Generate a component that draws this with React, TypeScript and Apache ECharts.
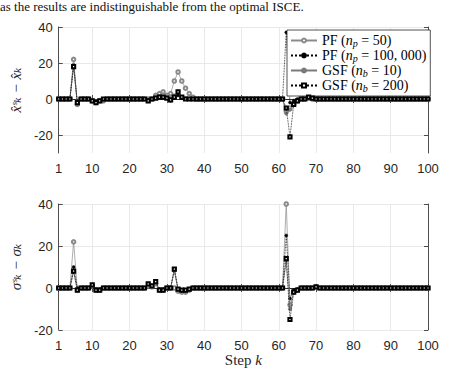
import React, { useEffect, useRef } from "react";
import * as echarts from "echarts";

const steps: number[] = Array.from({ length: 100 }, (_, i) => i + 1);

const xTicks = [1, 10, 20, 30, 40, 50, 60, 70, 80, 90, 100];
const yTicksTop = [-20, 0, 20, 40];
const yTicksBottom = [-20, 0, 20, 40];

const seriesNames = ["PF (n_p = 50)", "PF (n_p = 100,000)", "GSF (n_b = 10)", "GSF (n_b = 200)"];

// top: state estimate error
const xPF50 = [
  0, 0, 0, 0, 22, -3, 0, 0, 0, -1,
  -2, -1, -1, 0, 0, 0, 0, 0, 0, 0,
  0, 0, 0, 0, 0, 0, 2, 3, 4, 2,
  3, 10, 15, 10, 6, 3, 1, 0, 0, 0,
  0, 0, 0, 0, 0, 0, 0, 0, 0, 0,
  0, 0, 0, 0, 0, 0, 0, 0, 0, 0,
  0, -7, -5, -3, -1, 0, 0, 0.5, 0, 0,
  0, 0, 0, 0, 0, 0, 0, 0, 0, 0,
  0, 0, 0, 0, 0, 0, 0, 0, 0, 0,
  0, 0, 0, 0, 0, 0, 0, 0, 0, 0,
];
const xPF100k = [
  0, 0, 0, 0, 19, -2, 0, 0, 0, -1,
  -2, -1, 0, 0, 0, 0, 0, 0, 0, 0,
  0, 0, 0, 0, -0.5, 0, 0.5, 1, 1, 0.5,
  -1, 1, 2, 0.5, 0, 0, 0, 0, 0, 0,
  0, 0, 0, 0, 0, 0, 0, 0, 0, 0,
  0, 0, 0, 0, 0, 0, 0, 0, 0, 0,
  0, 37, -2, -1, 0, 0, 0, 0.5, 0, 0,
  0, 0, 0, 0, 0, 0, 0, 0, 0, 0,
  0, 0, 0, 0, 0, 0, 0, 0, 0, 0,
  0, 0, 0, 0, 0, 0, 0, 0, 0, 0,
];
const xGSF10 = [
  0, 0, 0, 0, 19, -3, 0, 0, 0, -1,
  -2, -1, -1, 0, 0, 0, 0, 0, 0, 0,
  0, 0, 0, 0, -1, 0, 1, 1.5, 1, 1,
  0.5, 2, 4, 1, 0.5, 0, 0, 0, 0, 0,
  0, 0, 0, 0, 0, 0, 0, 0, 0, 0,
  0, 0, 0, 0, 0, 0, 0, 0, 0, 0,
  0, -8, -6, -3, -1, 0, 0, 0.5, 0, 0,
  0, 0, 0, 0, 0, 0, 0, 0, 0, 0,
  0, 0, 0, 0, 0, 0, 0, 0, 0, 0,
  0, 0, 0, 0, 0, 0, 0, 0, 0, 0,
];
const xGSF200 = [
  0, 0, 0, 0, 18, -2, 0, 0, 0, -1,
  -2, -1, 0, 0, 0, 0, 0, 0, 0, 0,
  0, 0, 0, 0, -1, 0, 0.5, 1, 1, 0.5,
  -0.5, 1, 4, 1, 0, 0, 0, 0, 0, 0,
  0, 0, 0, 0, 0, 0, 0, 0, 0, 0,
  0, 0, 0, 0, 0, 0, 0, 0, 0, 0,
  0, -5, -21, -3, -1, 0, 0, 1, 0.5, 0,
  0, 0, 0, 0, 0, 0, 0, 0, 0, 0,
  0, 0, 0, 0, 0, 0, 0, 0, 0, 0,
  0, 0, 0, 0, 0, 0, 0, 0, 0, 0,
];

// bottom: std deviation error
const sPF50 = [
  0, 0, 0, 0, 22, -1, 0, 0, 0, 1,
  -1, -1, 0, 0, 0, 0, 0, 0, 0, 0,
  0, 0, 0, 0, 1, 0.5, 2, -1, -1, 0,
  0, 0, -1.5, -2, -2, -1, 0, 0, 0, 0,
  0, 0, 0, 0, 0, 0, 0, 0, 0, 0,
  0, 0, 0, 0, 0, 0, 0, 0, 0, 0,
  0, 40, -8, -2, -1, 0, 0, 0, 0, 0.5,
  0, 0, 0, 0, 0, 0, 0, 0, 0, 0,
  0, 0, 0, 0, 0, 0, 0, 0, 0, 0,
  0, 0, 0, 0, 0, 0, 0, 0, 0, 0,
];
const sPF100k = [
  0, 0, 0, 0, 10, 0, 0, 0, 0, 1.5,
  -0.5, -0.5, 0, 0, 0, 0, 0, 0, 0, 0,
  0, 0, 0, 0, 2, 1, 3, -0.5, -0.5, 0,
  0, 9, -0.5, -1, -1, -0.5, 0, 0, 0, 0,
  0, 0, 0, 0, 0, 0, 0, 0, 0, 0,
  0, 0, 0, 0, 0, 0, 0, 0, 0, 0,
  0, 25, -5, -1, -0.5, 0, 0, 0, 0, 0.5,
  0, 0, 0, 0, 0, 0, 0, 0, 0, 0,
  0, 0, 0, 0, 0, 0, 0, 0, 0, 0,
  0, 0, 0, 0, 0, 0, 0, 0, 0, 0,
];
const sGSF10 = [
  0, 0, 0, 0, 8, -1, 0, 0, 0, 1,
  -1, -1, 0, 0, 0, 0, 0, 0, 0, 0,
  0, 0, 0, 0, 1.5, 1, 2.5, -1, -1, 0,
  0, 8, -1, -1.5, -1.5, -1, 0, 0, 0, 0,
  0, 0, 0, 0, 0, 0, 0, 0, 0, 0,
  0, 0, 0, 0, 0, 0, 0, 0, 0, 0,
  0, 13, -10, -2, -1, 0, 0, 0, 0, 0.5,
  0, 0, 0, 0, 0, 0, 0, 0, 0, 0,
  0, 0, 0, 0, 0, 0, 0, 0, 0, 0,
  0, 0, 0, 0, 0, 0, 0, 0, 0, 0,
];
const sGSF200 = [
  0, 0, 0, 0, 8, -1, 0, 0, 0, 1.5,
  -1, -1, 0, 0, 0, 0, 0, 0, 0, 0,
  0, 0, 0, 0, 2, 1, 3, -1, -1, 0,
  0, 9, -0.5, -1, -1, -0.5, 0, 0, 0, 0,
  0, 0, 0, 0, 0, 0, 0, 0, 0, 0,
  0, 0, 0, 0, 0, 0, 0, 0, 0, 0,
  0, 14, -15, -2, -1, 0, 0, 0, 0, 0.5,
  0, 0, 0, 0, 0, 0, 0, 0, 0, 0,
  0, 0, 0, 0, 0, 0, 0, 0, 0, 0,
  0, 0, 0, 0, 0, 0, 0, 0, 0, 0,
];

const AX = "#262626";
const GRID = "#e3e3e3";
const SANS = "'Liberation Sans', Arial, sans-serif";
const SERIF = "'Liberation Serif', 'DejaVu Serif', serif";

const styles = [
  { color: "#8a8a8a", symbol: "emptyCircle", size: 3.5, type: "solid", width: 0.7, bw: 0.7 },
  { color: "#000000", symbol: "circle", size: 3, type: "dotted", width: 0.8, bw: 0.5 },
  { color: "#7a7a7a", symbol: "circle", size: 3.5, type: "solid", width: 0.7, bw: 0.5 },
  { color: "#000000", symbol: "emptyRect", size: 3.2, type: "dotted", width: 0.8, bw: 0.7 },
];

function pairs(arr: number[]) {
  return steps.map((s, i) => [s, arr[i]]);
}

function xAxisDef(gridIndex: number, top: boolean, name?: string) {
  return {
    type: "value",
    gridIndex,
    position: top ? "top" : "bottom",
    min: 1,
    max: 100,
    name: name || "",
    nameLocation: "middle",
    nameGap: 22,
    nameTextStyle: {
      fontFamily: SERIF,
      fontSize: 15,
      color: AX,
      rich: {
        r: { fontFamily: SERIF, fontSize: 15, color: AX },
        i: { fontFamily: SERIF, fontSize: 15, color: AX, fontStyle: "italic" },
      },
    },
    axisLine: { show: true, lineStyle: { color: AX, width: 0.8 } },
    axisTick: { show: true, inside: true, length: 4, customValues: xTicks, lineStyle: { color: AX, width: 0.8 } },
    axisLabel: { show: !top, customValues: xTicks, margin: 9, fontFamily: SANS, fontSize: 13, color: AX },
    splitLine: { show: !top, lineStyle: { color: GRID, width: 0.8 } },
  };
}

function yAxisDef(gridIndex: number, right: boolean, min: number, max: number, ticks: number[], name?: string) {
  return {
    type: "value",
    gridIndex,
    position: right ? "right" : "left",
    min,
    max,
    name: name || "",
    nameLocation: "middle",
    nameRotate: 90,
    nameGap: 25,
    nameTextStyle: { fontFamily: SERIF, fontSize: 15, fontStyle: "italic", color: AX },
    axisLine: { show: true, onZero: false, lineStyle: { color: AX, width: 0.8 } },
    axisTick: { show: true, inside: true, length: 4, customValues: ticks, lineStyle: { color: AX, width: 0.8 } },
    axisLabel: { show: !right, customValues: ticks, margin: 6, fontFamily: SANS, fontSize: 13, color: AX },
    splitLine: { show: !right, lineStyle: { color: GRID, width: 0.8 } },
  };
}

function legendFormatter(name: string) {
  const m = name.match(/^(\w+) \(n_(\w) = ([\d,]+)\)$/);
  if (!m) return name;
  const val = m[3].replace(",", ", ");
  return `{r|${m[1]} (}{i|n}{s|${m[2]}}{r| = ${val})}`;
}

export default function App() {
  const ref = useRef<HTMLDivElement>(null);
  useEffect(() => {
    if (!ref.current) return;
    const chart = echarts.init(ref.current, null, { renderer: "svg" });
    const topData = [xPF50, xPF100k, xGSF10, xGSF200];
    const botData = [sPF50, sPF100k, sGSF10, sGSF200];
    const mk = (arr: number[], k: number, xi: number, yi: number) => ({
      type: "line",
      name: seriesNames[k],
      xAxisIndex: xi,
      yAxisIndex: yi,
      data: pairs(arr),
      symbol: styles[k].symbol,
      symbolSize: styles[k].size,
      showSymbol: true,
      z: 2 + k,
      lineStyle: { color: styles[k].color, width: styles[k].width, type: styles[k].type },
      itemStyle: { color: styles[k].color, borderColor: styles[k].color, borderWidth: styles[k].bw },
      emphasis: { disabled: true },
    });
    const series: any[] = [];
    topData.forEach((a, k) => series.push(mk(a, k, 0, 0)));
    botData.forEach((a, k) => series.push(mk(a, k, 2, 2)));

    chart.setOption({
      animation: false,
      backgroundColor: "#ffffff",
      grid: [
        { left: 43, right: 46, top: 27, height: 126 },
        { left: 43, right: 46, top: 204, height: 126 },
      ],
      xAxis: [
        xAxisDef(0, false),
        xAxisDef(0, true),
        xAxisDef(1, false, "{r|Step }{i|k}"),
        xAxisDef(1, true),
      ],
      yAxis: [
        yAxisDef(0, false, -30, 40, yTicksTop, "x̂ˢₖ − x̂ₖ"),
        yAxisDef(0, true, -30, 40, yTicksTop),
        yAxisDef(1, false, -20, 40, yTicksBottom, "σˢₖ − σₖ"),
        yAxisDef(1, true, -20, 40, yTicksBottom),
      ],
      legend: {
        data: seriesNames,
        orient: "vertical",
        left: 287,
        top: 30,
        itemWidth: 26,
        itemHeight: 5,
        itemGap: 0,
        padding: [3, 4, 3, 3],
        backgroundColor: "#ffffff",
        borderColor: AX,
        borderWidth: 0.8,
        borderRadius: 0,
        selectedMode: false,
        formatter: legendFormatter,
        textStyle: {
          fontFamily: SERIF,
          fontSize: 14,
          color: "#000",
          rich: {
            r: { fontFamily: SERIF, fontSize: 14, color: "#000", lineHeight: 15 },
            i: { fontFamily: SERIF, fontSize: 14, fontStyle: "italic", color: "#000", lineHeight: 15 },
            s: { fontFamily: SERIF, fontSize: 10, fontStyle: "italic", color: "#000", lineHeight: 15, verticalAlign: "bottom", padding: [5, 0, 0, 0] },
          },
        },
      },
      graphic: [
        {
          type: "text",
          x: 0,
          y: 0,
          style: {
            text: "as the results are indistinguishable from the optimal ISCE.",
            font: "13px 'Liberation Serif', serif",
            fill: "#111",
          },
        },
      ],
      series,
    });
    return () => chart.dispose();
  }, []);
  return <div ref={ref} style={{ width: 474, height: 370, position: "absolute", left: 0, top: 0 }} />;
}
